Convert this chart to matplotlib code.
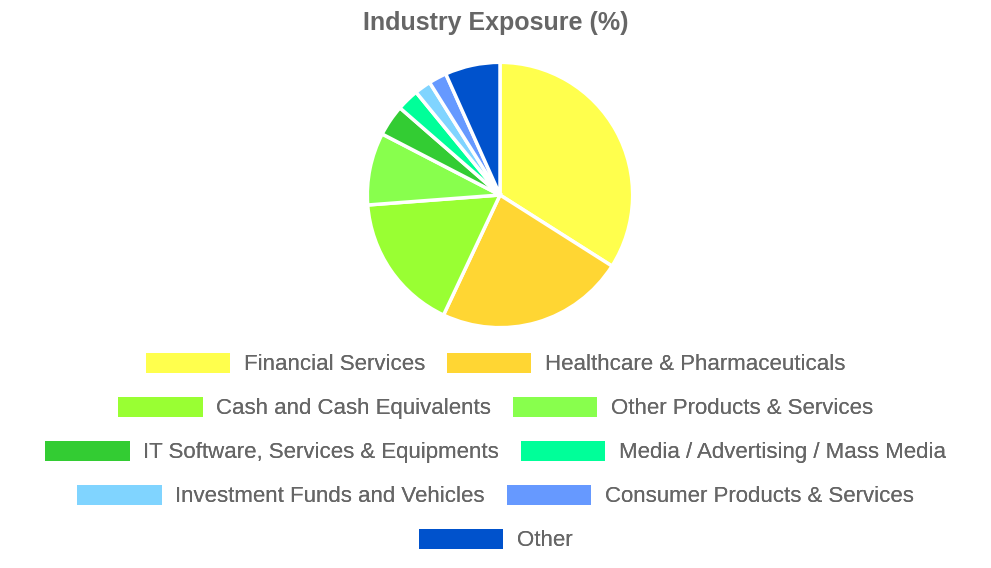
import matplotlib
matplotlib.use("Agg")
import matplotlib.pyplot as plt
from matplotlib.patches import Patch

plt.rcParams['font.family'] = ['Liberation Sans', 'DejaVu Sans']

labels = ["Financial Services", "Healthcare & Pharmaceuticals", "Cash and Cash Equivalents",
          "Other Products & Services", "IT Software, Services & Equipments",
          "Media / Advertising / Mass Media", "Investment Funds and Vehicles",
          "Consumer Products & Services", "Other"]
values = [34.0, 23.0, 16.8, 8.8, 3.8, 2.7, 2.0, 2.2, 6.7]
colors = ["#FFFF4D", "#FFD633", "#99FF33", "#88FF4D", "#33CC33", "#00FF99",
          "#80D4FF", "#6699FF", "#0052CC"]

fig = plt.figure(figsize=(9.91, 5.68), dpi=100)
fig.text(0.5, 0.96, "Industry Exposure (%)", ha="center", va="center",
         fontsize=18, fontweight="bold", color="#666666")
h = 268 / 568
w = 268 / 991
ax = fig.add_axes([(500 - 134) / 991, (568 - 329) / 568, w, h])
ax.pie(values, colors=colors, startangle=90, counterclock=False,
       wedgeprops=dict(edgecolor="white", linewidth=2.5))
ax.set_xlim(-1.01, 1.01)
ax.set_ylim(-1.01, 1.01)
ax.set_aspect("equal")

rows = [(0, 1), (2, 3), (4, 5), (6, 7), (8,)]
ys = [364, 408, 452, 496, 540]
for r, y in zip(rows, ys):
    handles = [Patch(facecolor=colors[i], label=labels[i]) for i in r]
    leg = fig.legend(handles=handles, loc="center", bbox_to_anchor=(0.5, 1 - y / 568),
                     ncol=len(r), frameon=False, fontsize=16, handlelength=3.8,
                     handleheight=1.0, handletextpad=0.6, columnspacing=1.0,
                     labelcolor="#666666")
    fig.add_artist(leg)

fig.savefig("out.png", dpi=100, facecolor="white")
